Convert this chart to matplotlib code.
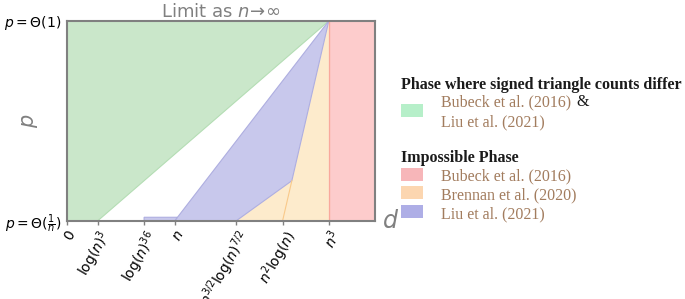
import matplotlib
matplotlib.use("Agg")
import matplotlib.pyplot as plt
from matplotlib.patches import Polygon, Rectangle

# x positions of the scale marks on the d axis (arbitrary units) and their labels
tick_pos = [0, 1.0, 2.5, 3.5, 5.5, 7.0, 8.5]
tick_labels = [r"$0$", r"$\log(n)^3$", r"$\log(n)^{36}$", r"$n$",
               r"$n^{3/2}\log(n)^{7/2}$", r"$n^2\log(n)$", r"$n^3$"]
x_max = 10.0

# phase regions (d, p) with p in [0, 1]
green_region = [(0, 0), (1.0, 0), (8.5, 1), (0, 1)]
red_region = [(8.5, 0), (10.0, 0), (10.0, 1), (8.5, 1)]
orange_region = [(5.5, 0), (7.3, 0.2), (8.5, 1), (8.5, 0)]
orange_line = [(7.0, 0), (7.3, 0.2)]
blue_region = [(3.5, 0), (8.5, 1), (7.3, 0.2), (5.5, 0)]
blue_strip = [(2.5, 0), (2.5, 0.017), (3.58, 0.017), (3.5, 0)]

grey = "#808080"
brown = "#a27c5e"

fig = plt.figure(figsize=(6.85, 2.99), dpi=100)
ax = fig.add_axes([0.098, 0.262, 0.4494, 0.668])

ax.add_patch(Polygon(green_region, closed=True, facecolor="#cae7ca",
                     edgecolor="#b4ddb4", lw=0.8))
ax.add_patch(Polygon(orange_region, closed=True, facecolor="#fdebcc",
                     edgecolor="none"))
ax.plot(*zip(*orange_line), color="#f9c98a", lw=0.8)
ax.add_patch(Polygon(blue_region, closed=True, facecolor="#c8c8ec",
                     edgecolor="#aeaee0", lw=0.8))
ax.add_patch(Polygon(blue_strip, closed=True, facecolor="#c8c8ec",
                     edgecolor="#aeaee0", lw=0.8))
ax.add_patch(Polygon(red_region, closed=True, facecolor="#fdcccc",
                     edgecolor="none"))
ax.plot([8.5, 8.5], [0, 1], color="#f9a99c", lw=1.0)

ax.set_xlim(0, x_max)
ax.set_ylim(0, 1)
ax.set_xticks(tick_pos)
ax.set_xticklabels(tick_labels, rotation=60, ha="right",
                   rotation_mode="anchor", fontsize=10)
ax.set_yticks([0, 1])
ax.set_yticklabels([r"$p=\Theta(\frac{1}{n})$", r"$p=\Theta(1)$"],
                   fontsize=10)
ax.tick_params(axis="both", color=grey, length=3, width=1, pad=2)
ax.tick_params(axis="y", length=0, pad=4)
for s in ax.spines.values():
    s.set_color(grey)
    s.set_linewidth(1.5)

ax.set_title(r"Limit as $n\!\rightarrow\!\infty$", color=grey, fontsize=13,
             pad=2)
ax.set_ylabel(r"$p$", color=grey, fontsize=15)
ax.yaxis.set_label_coords(-0.088, 0.5)
ax.text(1.05, 0.0, r"$d$", transform=ax.transAxes, color=grey, fontsize=17,
        ha="center", va="center")

# legend drawn by hand in figure pixels
W, H = 685, 299
serif = ["Liberation Serif", "DejaVu Serif"]


def ftext(x, y, s, **kw):
    fig.text(x / W, 1 - y / H, s, va="center", family=serif, **kw)


def patch(y0, y1, color):
    fig.add_artist(Rectangle((401 / W, 1 - y1 / H), 22 / W, (y1 - y0) / H,
                             transform=fig.transFigure, facecolor=color,
                             edgecolor="none"))


fs = 11.5
ftext(401, 85, "Phase where signed triangle counts differ",
      fontsize=fs, weight="bold", color="#1a1a1a")
patch(104, 117, "#b6efc9")
ftext(441, 102, "Bubeck et al. (2016)", fontsize=fs, color=brown)
ftext(576, 102, "&", fontsize=fs, color="#1a1a1a")
ftext(441, 122, "Liu et al. (2021)", fontsize=fs, color=brown)

ftext(401, 158, "Impossible Phase", fontsize=fs, weight="bold",
      color="#1a1a1a")
patch(168, 181, "#f7b6b9")
ftext(441, 176, "Bubeck et al. (2016)", fontsize=fs, color=brown)
patch(186, 199, "#fcd6b0")
ftext(441, 195, "Brennan et al. (2020)", fontsize=fs, color=brown)
patch(205, 218, "#aeaee6")
ftext(441, 214, "Liu et al. (2021)", fontsize=fs, color=brown)

fig.savefig("out.png", dpi=100)
